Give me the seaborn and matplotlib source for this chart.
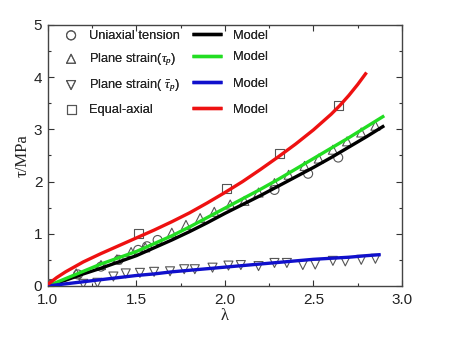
import numpy as np
import pandas as pd
import matplotlib
matplotlib.use("Agg")
import matplotlib.pyplot as plt
import seaborn as sns
from matplotlib.ticker import MultipleLocator

# ---- data ----
lam_model = [1.0, 1.1, 1.2, 1.3, 1.4, 1.5, 1.6, 1.7, 1.8, 1.9, 2.0, 2.1, 2.2, 2.3, 2.4, 2.5, 2.6, 2.7, 2.8, 2.9]
uni_model = [0.0, 0.11, 0.23, 0.34, 0.46, 0.58, 0.73, 0.88, 1.04, 1.21, 1.39, 1.56, 1.73, 1.91, 2.09, 2.27, 2.46, 2.66, 2.86, 3.07]
ps_model = [0.0, 0.14, 0.28, 0.42, 0.54, 0.66, 0.81, 0.96, 1.13, 1.31, 1.49, 1.67, 1.85, 2.04, 2.24, 2.44, 2.64, 2.84, 3.05, 3.26]
lam_psb_model = [1.0, 1.1, 1.2, 1.3, 1.4, 1.5, 1.6, 1.7, 1.8, 1.9, 2.0, 2.1, 2.2, 2.3, 2.4, 2.5, 2.6, 2.7, 2.8, 2.88]
psb_model = [0.0, 0.04, 0.08, 0.12, 0.16, 0.20, 0.23, 0.27, 0.30, 0.33, 0.36, 0.39, 0.42, 0.45, 0.48, 0.51, 0.53, 0.55, 0.58, 0.60]
lam_eq_model = [1.0, 1.05, 1.1, 1.2, 1.3, 1.4, 1.5, 1.6, 1.7, 1.8, 1.9, 2.0, 2.1, 2.2, 2.3, 2.4, 2.5, 2.6, 2.65, 2.7, 2.75, 2.8]
eq_model = [0.03, 0.16, 0.27, 0.46, 0.62, 0.77, 0.92, 1.07, 1.23, 1.40, 1.59, 1.79, 2.00, 2.23, 2.47, 2.72, 2.99, 3.29, 3.46, 3.65, 3.86, 4.09]

lam_uni = [1.0, 1.17, 1.30, 1.40, 1.51, 1.56, 1.62, 2.28, 2.47, 2.64]
tau_uni = [0.03, 0.22, 0.37, 0.50, 0.69, 0.76, 0.88, 1.84, 2.15, 2.46]
lam_ps = [1.0, 1.16, 1.30, 1.39, 1.47, 1.55, 1.70, 1.78, 1.86, 1.94, 2.03, 2.11, 2.19, 2.28, 2.36, 2.45, 2.53, 2.61, 2.69, 2.77, 2.85]
tau_ps = [0.03, 0.24, 0.40, 0.51, 0.65, 0.74, 1.02, 1.17, 1.30, 1.42, 1.56, 1.63, 1.79, 1.97, 2.13, 2.30, 2.44, 2.61, 2.77, 2.94, 3.07]
lam_psb = [1.0, 1.20, 1.28, 1.37, 1.44, 1.52, 1.60, 1.69, 1.77, 1.83, 1.93, 2.02, 2.09, 2.19, 2.28, 2.35, 2.44, 2.51, 2.61, 2.68, 2.77, 2.85]
tau_psb = [0.02, 0.04, 0.06, 0.18, 0.24, 0.25, 0.27, 0.28, 0.32, 0.32, 0.35, 0.39, 0.40, 0.38, 0.44, 0.44, 0.40, 0.41, 0.48, 0.47, 0.50, 0.52]
lam_eq = [1.0, 1.51, 2.01, 2.31, 2.64]
tau_eq = [0.04, 1.01, 1.87, 2.54, 3.45]

labels_data = ["Uniaxial tension", r"Plane strain($\tau_{p}$)", r"Plane strain( $\bar{\tau}_{p}$)", "Equal-axial"]
label_model = "Model"

sns.set_style("ticks")
plt.rcParams['font.family'] = ['Liberation Sans', 'DejaVu Sans']
plt.rcParams['mathtext.fontset'] = 'custom'
plt.rcParams['mathtext.rm'] = 'Liberation Serif'
plt.rcParams['mathtext.it'] = 'Liberation Serif:italic'

fig = plt.figure(figsize=(4.74, 3.47), dpi=100)
ax = fig.add_axes([0.101, 0.176, 0.747, 0.752])

mk = dict(s=42, facecolor='none', edgecolor='#555555', linewidth=0.8, zorder=3)
h1 = sns.scatterplot(x=lam_uni, y=tau_uni, marker='o', ax=ax, **mk).collections[-1]
h2 = sns.scatterplot(x=lam_ps, y=tau_ps, marker='^', ax=ax, **mk).collections[-1]
h3 = sns.scatterplot(x=lam_psb, y=tau_psb, marker='v', ax=ax, **mk).collections[-1]
h4 = sns.scatterplot(x=lam_eq, y=tau_eq, marker='s', ax=ax, **mk).collections[-1]

lw = 2.4
sns.lineplot(x=lam_model, y=uni_model, color='black', lw=lw, ax=ax, zorder=4)
sns.lineplot(x=lam_model, y=ps_model, color='#22dd22', lw=lw, ax=ax, zorder=4)
sns.lineplot(x=lam_psb_model, y=psb_model, color='#1010cc', lw=lw, ax=ax, zorder=4)
sns.lineplot(x=lam_eq_model, y=eq_model, color='#ee1111', lw=lw, ax=ax, zorder=4)
lines = ax.get_lines()[-4:]
for ln in lines:
    ln.set_solid_capstyle('butt')
    ln.set_solid_joinstyle('round')

ax.set_xlim(1.0, 3.0)
ax.set_ylim(0, 5)
ax.xaxis.set_minor_locator(MultipleLocator(0.25))
ax.yaxis.set_minor_locator(MultipleLocator(0.5))
ax.set_xticks([1.0, 1.5, 2.0, 2.5, 3.0])
ax.set_xticklabels(["1.0", "1.5", "2.0", "2.5", "3.0"])
ax.set_yticks([0, 1, 2, 3, 4, 5])
ax.set_yticklabels(["0", "1", "2", "3", "4", "5"])
ax.tick_params(which='both', direction='in', top=True, right=True, colors='#333333', labelcolor='#222222', labelsize=11)
ax.tick_params(which='major', length=4, width=0.8)
ax.tick_params(which='minor', length=2.5, width=0.8)
ax.tick_params(axis='x', which='major', pad=5)
ax.tick_params(axis='y', which='major', pad=4)
for s in ax.spines.values():
    s.set_color('#444444')
    s.set_linewidth(1.0)

ax.set_xlabel("λ", family='Liberation Serif', fontsize=12, color='#222222', labelpad=1)
ax.set_ylabel("τ/MPa", family='Liberation Serif', fontsize=12, color='#222222', labelpad=2)

fs = 9.3
legA = ax.legend([h1, h2, h3, h4], labels_data, loc='upper left', bbox_to_anchor=(0.029, 0.982),
                 frameon=False, fontsize=fs, handlelength=2.0, handletextpad=0.4,
                 labelspacing=0.74, borderaxespad=0.0, borderpad=0.0)
ax.add_artist(legA)

fig.canvas.draw()
renderer = fig.canvas.get_renderer()
texts = legA.get_texts()
h0 = texts[0].get_window_extent(renderer).height
x_col2 = ax.transAxes.transform((0.407, 0))[0]
for ln, t in zip(lines, texts):
    bb = t.get_window_extent(renderer)
    yc = bb.y1 - h0 / 2.0
    lg = fig.legend([ln], [label_model], loc='center left',
                    frameon=False, fontsize=fs, handlelength=2.35, handletextpad=0.8,
                    borderaxespad=0.0, borderpad=0.0)
    lg.set_bbox_to_anchor((x_col2, yc), transform=matplotlib.transforms.IdentityTransform())
    fig.add_artist(lg)

fig.savefig("out.png", dpi=100)
